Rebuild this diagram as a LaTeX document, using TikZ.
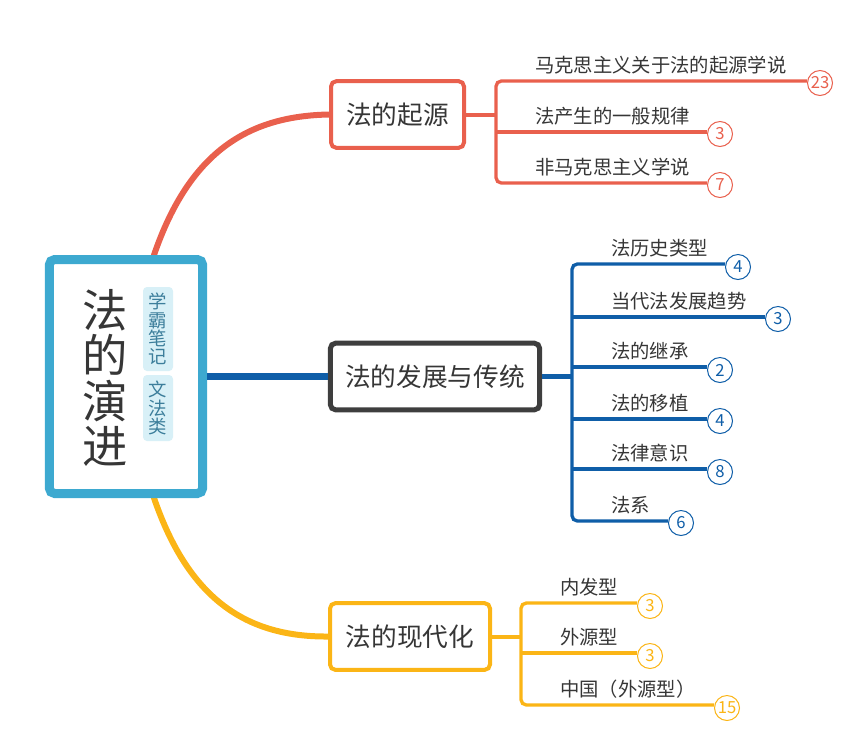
\documentclass[tikz,border=0pt]{standalone}
\usepackage{fontspec}
\setmainfont{Noto Sans CJK SC}
\usetikzlibrary{positioning}
\usetikzlibrary{backgrounds}
\definecolor{origred}{HTML}{E9604D}
\definecolor{lawblue}{HTML}{0F5EA8}
\definecolor{modorange}{HTML}{FBB516}
\definecolor{rootblue}{HTML}{3DA9D0}
\definecolor{darkbox}{HTML}{3E3E3E}
\definecolor{tagfill}{HTML}{D8F0F7}
\definecolor{tagtext}{HTML}{3C7E9B}
\definecolor{textgray}{HTML}{363636}

\begin{document}
\begin{tikzpicture}[x=0.75pt,y=-0.75pt,
  topic/.style={draw,line width=3pt,rounded corners=4pt,fill=white,text=textgray,font=\fontsize{19.25}{19.25}\selectfont,minimum height=50pt,inner sep=0},
  leaf/.style={anchor=west,inner sep=0,text=textgray,font=\fontsize{14.5}{14.5}\selectfont},
  badge/.style={circle,draw,line width=0.75pt,fill=white,minimum size=18.75pt,inner sep=0,font=\fontsize{12.5}{12.5}\selectfont},
  tag/.style={fill=tagfill,rounded corners=3pt,text=tagtext,align=center,minimum width=22.5pt,inner sep=0,font=\fontsize{13.8}{13.8}\selectfont},
  twig/.style={line width=2.5pt}]
\useasboundingbox (0,0) rectangle (846,751);

% root
\node[draw=rootblue,line width=6.75pt,rounded corners=4pt,fill=white,minimum width=115pt,minimum height=175.5pt] (root) at (126,376.5) {};
\node[text=textgray,align=center,inner sep=0,font=\fontsize{34}{34}\selectfont] (title) at (105,378) {法\\的\\演\\进};
\node[tag,minimum height=63pt] (tag1) at (158,329) {学\\霸\\笔\\记};
\node[tag,minimum height=49.5pt] (tag2) at (158,408) {文\\法\\类};

% main topics
\node[topic,draw=origred,minimum width=99.75pt] (origin) at (397.5,114.5) {法的起源};
\node[topic,draw=darkbox,line width=3.75pt,minimum width=157pt] (develop) at (435,376.5) {法的发展与传统};
\node[topic,draw=modorange,minimum width=120pt] (modern) at (410,636.5) {法的现代化};

\begin{scope}[on background layer]
\draw[origred,line width=4.5pt] ([xshift=21pt,yshift=-6pt]root.north) -- ([xshift=21pt]root.north) .. controls (190,150) and (250,116) .. (origin.west);
\draw[modorange,line width=4.5pt] ([xshift=21pt,yshift=6pt]root.south) -- ([xshift=21pt]root.south) .. controls (190,603) and (250,637) .. (modern.west);
\end{scope}
\draw[lawblue,line width=5.25pt] (root.east) -- (develop.west);

% origin branch
\coordinate (o1) at (496,81);
\coordinate (o2) at (496,132);
\coordinate (o3) at (496,183);
\node[badge,draw=origred,text=origred] (on1) at (820,83) {23};
\node[badge,draw=origred,text=origred] (on2) at (720,134) {3};
\node[badge,draw=origred,text=origred] (on3) at (720,185) {7};
\node[leaf] (os1) at (535,65) {马克思主义关于法的起源学说};
\node[leaf] (os2) at (535,116) {法产生的一般规律};
\node[leaf] (os3) at (535,167) {非马克思主义学说};
\draw[origred,line width=3pt] (origin.east) -- (origin.east -| o1);
\draw[origred,twig,rounded corners=4pt] (on1.west |- o1) -- (o1) -- (o3) -- (on3.west |- o3);
\draw[origred,twig] (o2) -- (on2.west |- o2);

% development branch
\coordinate (d1) at (572,264);
\coordinate (d2) at (572,317);
\coordinate (d3) at (572,367);
\coordinate (d4) at (572,419);
\coordinate (d5) at (572,469);
\coordinate (d6) at (572,521);
\node[badge,draw=lawblue,text=lawblue] (dn1) at (738,267) {4};
\node[badge,draw=lawblue,text=lawblue] (dn2) at (778,319) {3};
\node[badge,draw=lawblue,text=lawblue] (dn3) at (720,370) {2};
\node[badge,draw=lawblue,text=lawblue] (dn4) at (720,421) {4};
\node[badge,draw=lawblue,text=lawblue] (dn5) at (720,472) {8};
\node[badge,draw=lawblue,text=lawblue] (dn6) at (681,523) {6};
\node[leaf] (ds1) at (611,248) {法历史类型};
\node[leaf] (ds2) at (611,301) {当代法发展趋势};
\node[leaf] (ds3) at (611,351) {法的继承};
\node[leaf] (ds4) at (611,403) {法的移植};
\node[leaf] (ds5) at (611,453) {法律意识};
\node[leaf] (ds6) at (611,505) {法系};
\draw[lawblue,line width=3.75pt] (develop.east) -- (develop.east -| d1);
\draw[lawblue,twig,rounded corners=4pt] (dn1.west |- d1) -- (d1) -- (d6) -- (dn6.west |- d6);
\draw[lawblue,twig] (d2) -- (dn2.west |- d2);
\draw[lawblue,twig] (d3) -- (dn3.west |- d3);
\draw[lawblue,twig] (d4) -- (dn4.west |- d4);
\draw[lawblue,twig] (d5) -- (dn5.west |- d5);

% modernisation branch
\coordinate (m1) at (521,603);
\coordinate (m2) at (521,653);
\coordinate (m3) at (521,705);
\node[badge,draw=modorange,text=modorange] (mn1) at (650,606) {3};
\node[badge,draw=modorange,text=modorange] (mn2) at (650,656) {3};
\node[badge,draw=modorange,text=modorange] (mn3) at (727,708) {15};
\node[leaf] (ms1) at (560,587) {内发型};
\node[leaf] (ms2) at (560,637) {外源型};
\node[leaf] (ms3) at (560,689) {中国（外源型）};
\draw[modorange,line width=3pt] (modern.east) -- (modern.east -| m1);
\draw[modorange,twig,rounded corners=4pt] (mn1.west |- m1) -- (m1) -- (m3) -- (mn3.west |- m3);
\draw[modorange,twig] (m2) -- (mn2.west |- m2);

\end{tikzpicture}
\end{document}
